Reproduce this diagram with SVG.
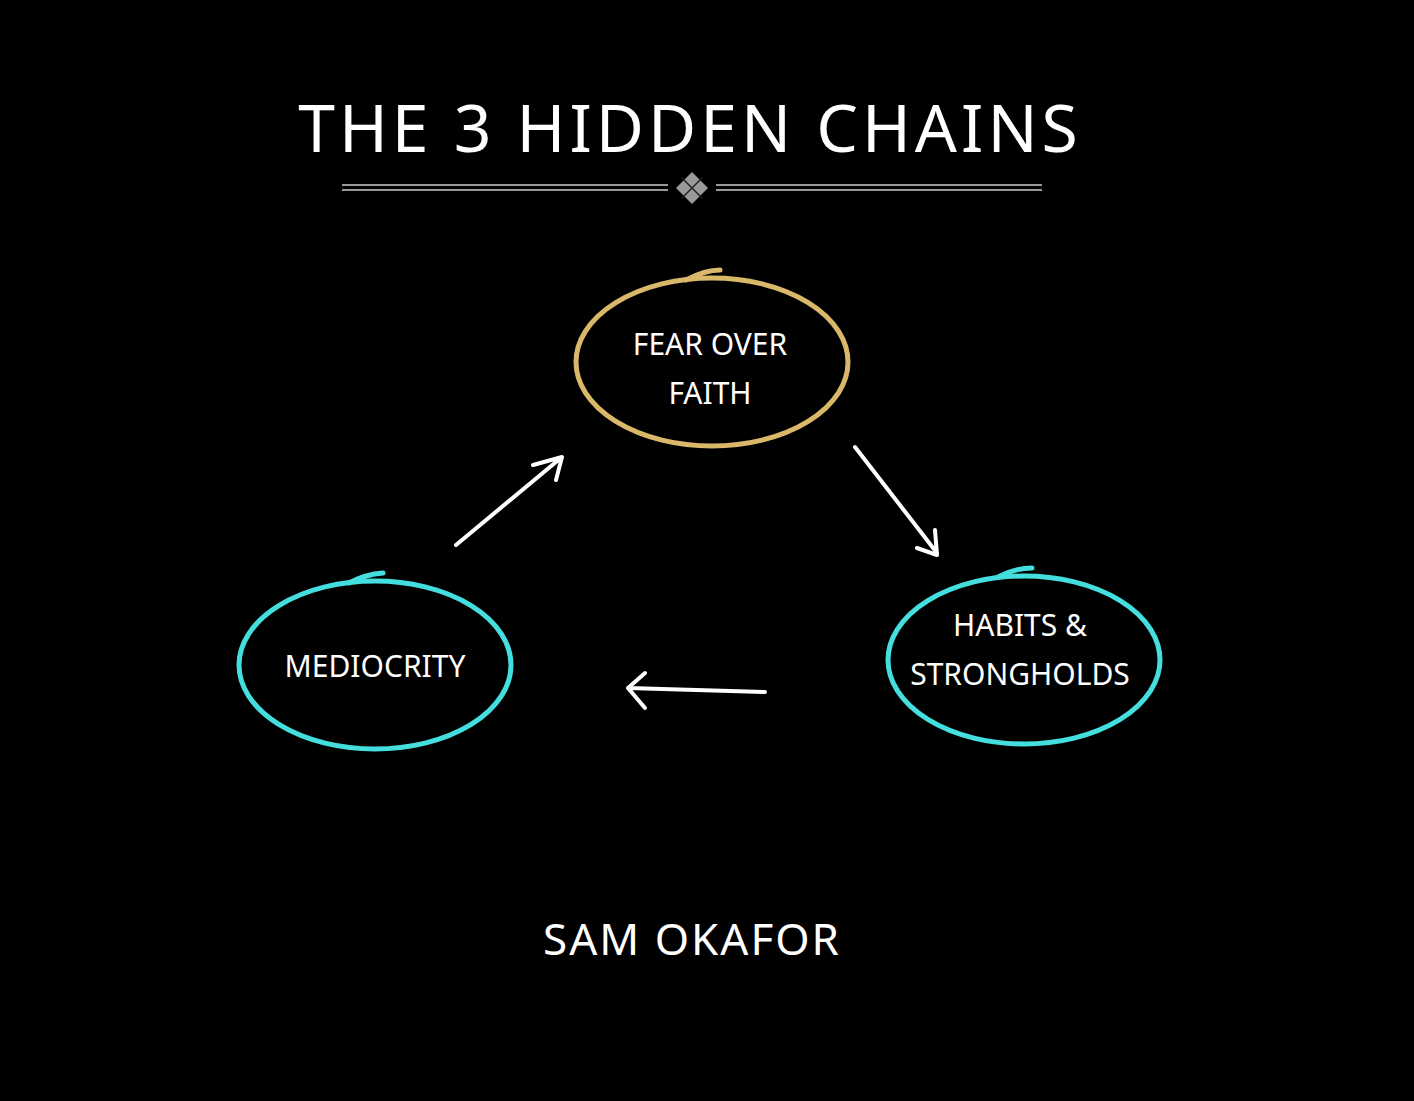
<svg xmlns="http://www.w3.org/2000/svg" width="1414" height="1101" viewBox="0 0 1414 1101">
<defs>
<style>
.t{font-family:"Noto Sans","DejaVu Sans",sans-serif;fill:#fff;text-anchor:middle}
.c{fill:none;stroke-width:5;stroke-linecap:round}
.a{fill:none;stroke:#fff;stroke-width:4;stroke-linecap:round;stroke-linejoin:round}
</style>
</defs>
<rect width="1414" height="1101" fill="#000"/>
<g id="title">
<text class="t" x="690" y="152" font-size="66" letter-spacing="4">THE 3 HIDDEN CHAINS</text>
<g stroke="#999" stroke-width="2">
<line x1="342" y1="185" x2="668" y2="185"/><line x1="342" y1="190" x2="668" y2="190"/>
<line x1="716" y1="185" x2="1042" y2="185"/><line x1="716" y1="190" x2="1042" y2="190"/>
</g>
<path d="M692 172 L708 188 L692 204 L676 188 Z" fill="#999"/>
<path d="M682 178 L702 198 M702 178 L682 198" stroke="#222" stroke-width="1.5"/>
</g>
<g id="fear">
<ellipse class="c" cx="712" cy="362" rx="136" ry="84" stroke="#d9b86a"/>
<path class="c" d="M686 280 Q705 270 720 270" stroke="#d9b86a" stroke-width="4"/>
<text class="t" x="710" y="355" font-size="30">FEAR OVER</text>
<text class="t" x="710" y="404" font-size="30">FAITH</text>
</g>
<g id="habits">
<ellipse class="c" cx="1024" cy="660" rx="136" ry="84" stroke="#45dede"/>
<path class="c" d="M998 577 Q1015 568 1032 568" stroke="#45dede" stroke-width="4"/>
<text class="t" x="1020" y="636" font-size="30">HABITS &amp;</text>
<text class="t" x="1020" y="685" font-size="30">STRONGHOLDS</text>
</g>
<g id="mediocrity">
<ellipse class="c" cx="375" cy="665" rx="136" ry="84" stroke="#45dede"/>
<path class="c" d="M349 583 Q366 574 383 573" stroke="#45dede" stroke-width="4"/>
<text class="t" x="375" y="677" font-size="30">MEDIOCRITY</text>
</g>
<g id="connectors">
<path class="a" d="M855 447 L937 553 M917 548 L937 555 L935 530"/>
<path class="a" d="M765 692 L628 688 M645 673 L628 688 L645 708"/>
<path class="a" d="M456 545 L562 457 M533 465 L562 457 L556 480"/>
</g>
<g id="author">
<text class="t" x="692" y="955" font-size="44" letter-spacing="2">SAM OKAFOR</text>
</g>
</svg>
